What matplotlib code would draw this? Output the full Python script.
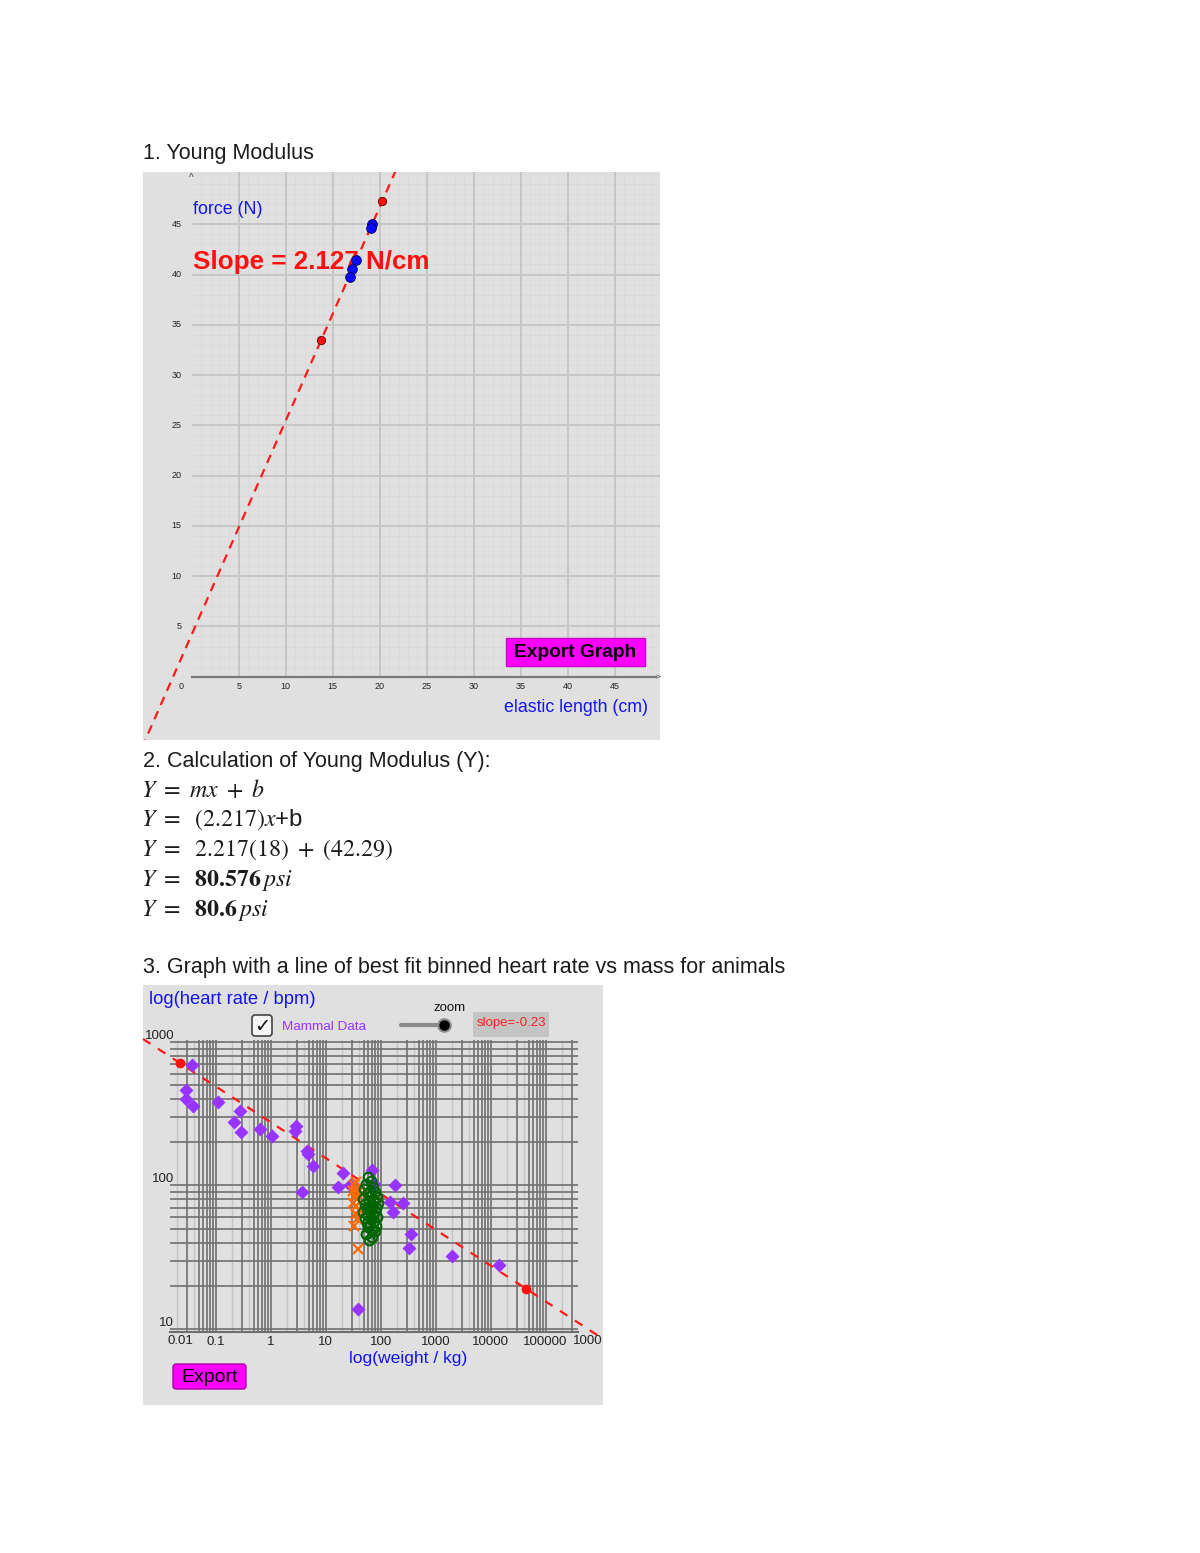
import numpy as np
import matplotlib
matplotlib.use("Agg")
from matplotlib import pyplot as plt
from matplotlib.patches import Rectangle, FancyBboxPatch
from matplotlib.ticker import LogLocator, NullFormatter, FixedLocator

plt.rcParams['font.family'] = ['Liberation Sans', 'DejaVu Sans']
plt.rcParams['mathtext.fontset'] = 'stix'

W, H = 1200, 1553

# --- 1. Young modulus: force vs elastic length ---
fit_length_cm = [13.76, 20.24]
fit_force_n = [33.5, 47.3]
length_cm = [19.21, 19.07, 17.51, 17.09, 16.81]
force_n = [45.0, 44.6, 41.4, 40.6, 39.8]
slope_n_cm = 2.127
intercept_n = 4.2
x_ticks_cm = [5, 10, 15, 20, 25, 30, 35, 40, 45]
y_ticks_n = [5, 10, 15, 20, 25, 30, 35, 40, 45]

# --- 3. heart rate vs mass ---
mammal_mass_kg = [0.037, 0.029, 0.029, 0.039, 0.112, 0.274, 0.213, 0.293, 0.634, 1.07,
                  2.86, 2.74, 4.53, 4.73, 5.82, 3.67, 17.0, 20.5, 27.8, 68.9,
                  76.8, 185, 148, 252, 170, 362, 324, 1963, 14400, 39.3]
mammal_hr_bpm = [690, 464, 401, 357, 380, 329, 276, 235, 246, 220,
                 261, 239, 175, 166, 137, 90, 97, 123, 100, 129,
                 103, 100, 77, 76, 65.5, 45.6, 36.6, 32.5, 27.7, 13.8]
human_mass_kg = [60, 66, 55, 72, 50, 63, 80, 58, 68, 85, 47, 75, 62, 88, 53, 70, 82, 57,
                 65, 78, 48, 73, 60, 86, 52, 67, 77, 56, 64, 83, 59, 71, 79, 54, 69, 62]
human_hr_bpm = [114, 108, 102, 98, 95, 92, 90, 88, 85, 83, 80, 79, 77, 75, 74, 72, 70, 69,
                67, 66, 65, 63, 62, 60, 59, 58, 57, 55, 54, 52, 51, 49, 48, 46, 44, 42]
other_mass_kg = [36, 33, 35, 31, 38, 34, 37, 32, 36, 40, 35, 38, 33, 39]
other_hr_bpm = [105, 100, 95, 91, 88, 84, 80, 76, 72, 68, 63, 58, 52, 36]
fit_mass_kg = [0.0225, 44000]
fit_hr_bpm = [713, 19.1]
mass_ticks = [0.1, 1, 10, 100, 1000, 10000, 100000]
mass_labels = ['0.1', '1', '10', '100', '1000', '10000', '100000']
hr_ticks = [10, 100, 1000]


def ax_px(x0, y0, x1, y1, **kw):
    return fig.add_axes([x0 / W, 1 - y1 / H, (x1 - x0) / W, (y1 - y0) / H], **kw)


fig = plt.figure(figsize=(W / 100, H / 100), dpi=100)
fig.patch.set_facecolor('white')

bg = ax_px(0, 0, W, H, zorder=0)
fg = ax_px(0, 0, W, H, zorder=10)
for a in (bg, fg):
    a.set_xlim(0, W)
    a.set_ylim(H, 0)
    a.axis('off')

blue = '#1414f0'
purple = '#9933ff'

# ---------------- top chart ----------------
ax1 = ax_px(143, 172, 660, 740, zorder=2)
ax1.set_facecolor('#e0e0e0')
ax1.set_xlim(-5.18, 49.8)
ax1.set_ylim(-6.3, 50.2)
for s in ax1.spines.values():
    s.set_visible(False)
ax1.set_xticks([])
ax1.set_yticks([])

ax1.vlines(np.arange(1, 50), 0, 50.2, color='#d9d9d9', lw=0.6, zorder=0)
ax1.hlines(np.arange(1, 51), 0, 49.8, color='#d9d9d9', lw=0.6, zorder=0)
ax1.vlines(x_ticks_cm, 0, 50.2, color='#c6c6c6', lw=1.4, zorder=0)
ax1.hlines(y_ticks_n, 0, 49.8, color='#c6c6c6', lw=1.4, zorder=0)
ax1.plot([0, 49.4], [0, 0], color='#7a7a7a', lw=1.6, zorder=1)
ax1.text(49.6, 0, '>', fontsize=6, ha='center', va='center', color='#444444')
ax1.text(0, 50.1, '^', fontsize=7, ha='center', va='top', color='#444444')

for v in x_ticks_cm:
    ax1.text(v, -1.0, str(v), fontsize=6.5, ha='center', va='center', color='#222222')
for v in y_ticks_n:
    ax1.text(-1.1, v, str(v), fontsize=6.5, ha='right', va='center', color='#222222')
ax1.text(-1.1, -1.0, '0', fontsize=6.5, ha='center', va='center', color='#222222')

ax1.text(193, 262, 'Slope = 2.127 N/cm', transform=fg.transData, fontsize=18.7,
         fontweight='bold', color='#ff1010', va='center', zorder=2)

xs = np.array([-5.3, 23.0])
ax1.plot(xs, slope_n_cm * xs + intercept_n, color='#ff1a1a', lw=1.6,
         ls=(0, (4, 3)), zorder=3)
ax1.plot(fit_length_cm, fit_force_n, 'o', ms=6, mfc='#ff1010', mec='#5a0000',
         mew=0.6, zorder=4)
ax1.plot(length_cm, force_n, 'o', ms=7, mfc='#0a0aff', mec='#000055',
         mew=0.6, zorder=5)

fg.text(193, 210, 'force (N)', fontsize=12.8, color=blue, va='center')
fg.text(648, 708, 'elastic length (cm)', fontsize=12.8, color=blue, va='center', ha='right')
fg.add_patch(Rectangle((506, 638), 139, 28, fc='#ff00ff', ec='#cc00cc', lw=1))
fg.text(575.5, 652.5, 'Export Graph', fontsize=13.8, fontweight='bold',
        ha='center', va='center', color='black')

# ---------------- document text ----------------
txt = '#1c1c1c'
fg.text(143, 153, '1. Young Modulus', fontsize=15.5, va='center', color=txt)
fg.text(143, 762, '2. Calculation of Young Modulus (Y):', fontsize=15.5, va='center', color=txt)
eqs = [r'$Y\ =\ mx\ +\ b$',
       r'$Y\ =\ \ (2.217)x$+b',
       r'$Y\ =\ \ 2.217(18)\ +\ (42.29)$',
       r'$Y\ =\ \ \mathbf{80.576}\,psi$',
       r'$Y\ =\ \ \mathbf{80.6}\,psi$']
for i, e in enumerate(eqs):
    fg.text(141, 790 + 30 * i, e, fontsize=17.2, va='center', color=txt)
fg.text(143, 967, '3. Graph with a line of best fit binned heart rate vs mass for animals',
        fontsize=15.5, va='center', color=txt)

# ---------------- bottom chart ----------------
bg.add_patch(Rectangle((143, 985), 460, 420, fc='#e0e0e0', ec='none'))
ax2 = ax_px(170, 1040, 578, 1332, zorder=2)
ax2.set_facecolor('none')
ax2.set_xscale('log')
ax2.set_yscale('log')
ax2.set_xlim(10 ** -1.829, 10 ** 5.589)
ax2.set_ylim(10 ** 0.979, 10 ** 3.0139)
for k in ('top', 'right', 'left'):
    ax2.spines[k].set_visible(False)
ax2.spines['bottom'].set_color('#6e6e6e')
ax2.spines['bottom'].set_linewidth(1.5)
ax2.xaxis.set_minor_locator(LogLocator(base=10, subs=[3, 5, 6, 7, 8, 9], numticks=30))
ax2.yaxis.set_minor_locator(LogLocator(base=10, subs=np.arange(2, 10), numticks=30))
for axis in (ax2.xaxis, ax2.yaxis):
    axis.set_minor_formatter(NullFormatter())
ax2.xaxis.set_major_locator(FixedLocator(mass_ticks))
ax2.yaxis.set_major_locator(FixedLocator(hr_ticks))
ax2.set_xticklabels(mass_labels)
ax2.set_yticklabels([str(v) for v in hr_ticks])
ax2.tick_params(which='both', length=0, labelsize=9.5, colors='#222222')
ax2.tick_params(axis='x', pad=3)
ax2.tick_params(axis='y', pad=-3)
for lab in ax2.get_yticklabels():
    lab.set_va('bottom')
ax2.grid(which='both', color='#707070', lw=1.2)
# faint extra log lines (2 and 4 in each decade)
faint = [s * 10.0 ** d for d in range(-2, 6) for s in (2, 4)]
ax2.vlines(faint, 10 ** 0.979, 10 ** 3.0139, color='#c4c4c4', lw=1.0, zorder=0.5)
ax2.set_axisbelow(True)

lx = np.log10(fit_mass_kg)
ly = np.log10(fit_hr_bpm)
m = (ly[1] - ly[0]) / (lx[1] - lx[0])
xl = np.array([-2.32, 6.045])
ax2.plot(10 ** xl, 10 ** (ly[0] + m * (xl - lx[0])), color='#ff1a1a', lw=1.6,
         ls=(0, (4, 4)), clip_on=False, zorder=3)
ax2.plot(mammal_mass_kg, mammal_hr_bpm, 'D', ms=7.5, color=purple, mec='none', zorder=4)
ax2.plot(other_mass_kg, other_hr_bpm, 'x', ms=6.5, color='#ff6a00', mew=1.6, zorder=4)
ax2.plot(human_mass_kg, human_hr_bpm, 'o', ms=7, mfc='none', mec='#006400', mew=1.5, zorder=5)
ax2.plot(fit_mass_kg, fit_hr_bpm, 'o', ms=6, color='#ff1010', zorder=6)

fg.text(180, 1341, '0.01', fontsize=9.5, ha='center', va='center', color='#222222')
fg.text(588, 1341, '1000', fontsize=9.5, ha='center', va='center', color='#222222')
fg.text(149, 1000, 'log(heart rate / bpm)', fontsize=13.2, color=blue, va='center')
fg.text(408, 1359, 'log(weight / kg)', fontsize=12.6, color=blue, va='center', ha='center')

fg.add_patch(FancyBboxPatch((252, 1015), 20, 21, boxstyle='round,pad=0,rounding_size=3',
                            fc='#f6f6f6', ec='#444444', lw=1.2))
fg.text(262, 1026, '\u2713', fontsize=14, ha='center', va='center', color='#111111',
        family='DejaVu Sans', fontweight='bold')
fg.text(282, 1027, 'Mammal Data', fontsize=9.7, color=purple, va='center')
fg.plot([401, 443], [1025, 1025], color='#8a8a8a', lw=3, solid_capstyle='round')
fg.plot([444], [1025], 'o', ms=9, mfc='black', mec='#8a8a8a', mew=1.5)
fg.text(450, 1008, 'zoom', fontsize=9.5, ha='center', va='center', color='#111111')
fg.add_patch(Rectangle((473, 1012), 76, 25, fc='#c4c4c4', ec='none'))
fg.text(511, 1023, 'slope=-0.23', fontsize=9.5, ha='center', va='center', color='#ff2020')
fg.add_patch(FancyBboxPatch((173, 1364), 73, 25, boxstyle='round,pad=0,rounding_size=3',
                            fc='#ff00ff', ec='#aa00aa', lw=1))
fg.text(210, 1377, 'Export', fontsize=14, ha='center', va='center', color='black')

fig.savefig('out.png', dpi=100)
